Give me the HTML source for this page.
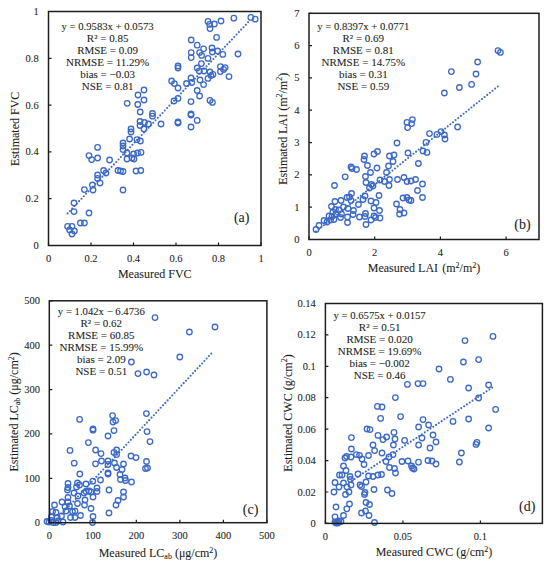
<!DOCTYPE html>
<html><head><meta charset="utf-8"><style>
html,body{margin:0;padding:0;background:#fff;overflow:hidden;}
svg{display:block;}
text{font-family:"Liberation Serif",serif;fill:#1e1e1e;stroke:#1e1e1e;stroke-width:0.08px;white-space:pre;}
.tk{font-size:10.5px;}
.st{font-size:11px;}
.tg{font-size:14px;}
.ti{font-size:12px;}
</style></head><body>
<svg width="550" height="567" viewBox="0 0 550 567">
<rect width="550" height="567" fill="#fff"/>
<g fill="none" stroke="#3d6ac6" stroke-width="1.3"><circle cx="208.0" cy="21.4" r="2.75"/><circle cx="209.6" cy="24.4" r="2.75"/><circle cx="214.4" cy="24.0" r="2.75"/><circle cx="210.0" cy="28.6" r="2.75"/><circle cx="221.0" cy="21.0" r="2.75"/><circle cx="233.8" cy="18.2" r="2.75"/><circle cx="250.8" cy="17.4" r="2.75"/><circle cx="255.2" cy="19.2" r="2.75"/><circle cx="216.6" cy="37.4" r="2.75"/><circle cx="191.2" cy="40.0" r="2.75"/><circle cx="197.2" cy="45.2" r="2.75"/><circle cx="203.6" cy="48.8" r="2.75"/><circle cx="212.0" cy="48.0" r="2.75"/><circle cx="212.4" cy="52.0" r="2.75"/><circle cx="217.6" cy="51.0" r="2.75"/><circle cx="222.8" cy="54.4" r="2.75"/><circle cx="238.0" cy="54.0" r="2.75"/><circle cx="191.2" cy="52.6" r="2.75"/><circle cx="191.2" cy="57.6" r="2.75"/><circle cx="199.6" cy="52.6" r="2.75"/><circle cx="201.6" cy="55.4" r="2.75"/><circle cx="208.0" cy="58.4" r="2.75"/><circle cx="178.0" cy="66.0" r="2.75"/><circle cx="178.0" cy="68.0" r="2.75"/><circle cx="201.4" cy="63.6" r="2.75"/><circle cx="197.2" cy="68.0" r="2.75"/><circle cx="199.2" cy="71.0" r="2.75"/><circle cx="204.0" cy="71.0" r="2.75"/><circle cx="210.0" cy="72.0" r="2.75"/><circle cx="213.0" cy="74.4" r="2.75"/><circle cx="211.0" cy="75.6" r="2.75"/><circle cx="208.0" cy="78.4" r="2.75"/><circle cx="220.4" cy="66.6" r="2.75"/><circle cx="225.2" cy="67.6" r="2.75"/><circle cx="223.6" cy="69.4" r="2.75"/><circle cx="220.4" cy="71.6" r="2.75"/><circle cx="229.0" cy="76.6" r="2.75"/><circle cx="191.0" cy="78.0" r="2.75"/><circle cx="191.8" cy="82.5" r="2.75"/><circle cx="186.5" cy="83.5" r="2.75"/><circle cx="200.0" cy="80.0" r="2.75"/><circle cx="203.6" cy="84.6" r="2.75"/><circle cx="171.6" cy="81.0" r="2.75"/><circle cx="174.4" cy="83.6" r="2.75"/><circle cx="178.0" cy="88.0" r="2.75"/><circle cx="197.2" cy="90.5" r="2.75"/><circle cx="144.0" cy="90.0" r="2.75"/><circle cx="138.0" cy="95.0" r="2.75"/><circle cx="144.0" cy="100.0" r="2.75"/><circle cx="127.2" cy="103.3" r="2.75"/><circle cx="137.8" cy="104.5" r="2.75"/><circle cx="140.2" cy="112.0" r="2.75"/><circle cx="152.5" cy="113.5" r="2.75"/><circle cx="152.5" cy="116.2" r="2.75"/><circle cx="161.0" cy="124.0" r="2.75"/><circle cx="140.0" cy="121.5" r="2.75"/><circle cx="144.5" cy="122.5" r="2.75"/><circle cx="148.5" cy="124.0" r="2.75"/><circle cx="140.0" cy="125.5" r="2.75"/><circle cx="144.0" cy="129.0" r="2.75"/><circle cx="131.0" cy="129.0" r="2.75"/><circle cx="131.0" cy="132.0" r="2.75"/><circle cx="129.6" cy="139.0" r="2.75"/><circle cx="137.0" cy="139.6" r="2.75"/><circle cx="140.4" cy="141.0" r="2.75"/><circle cx="123.0" cy="143.0" r="2.75"/><circle cx="123.0" cy="146.0" r="2.75"/><circle cx="123.0" cy="149.6" r="2.75"/><circle cx="97.6" cy="147.4" r="2.75"/><circle cx="89.0" cy="155.6" r="2.75"/><circle cx="91.6" cy="159.6" r="2.75"/><circle cx="97.6" cy="158.0" r="2.75"/><circle cx="127.0" cy="153.0" r="2.75"/><circle cx="133.6" cy="154.0" r="2.75"/><circle cx="137.6" cy="153.0" r="2.75"/><circle cx="141.0" cy="152.4" r="2.75"/><circle cx="127.0" cy="159.0" r="2.75"/><circle cx="132.0" cy="158.0" r="2.75"/><circle cx="134.0" cy="159.0" r="2.75"/><circle cx="109.6" cy="160.0" r="2.75"/><circle cx="103.6" cy="170.5" r="2.75"/><circle cx="118.0" cy="170.5" r="2.75"/><circle cx="120.5" cy="171.0" r="2.75"/><circle cx="123.0" cy="171.5" r="2.75"/><circle cx="136.0" cy="171.0" r="2.75"/><circle cx="140.8" cy="170.5" r="2.75"/><circle cx="199.6" cy="96.0" r="2.75"/><circle cx="178.0" cy="98.4" r="2.75"/><circle cx="174.0" cy="101.0" r="2.75"/><circle cx="191.0" cy="101.6" r="2.75"/><circle cx="210.0" cy="100.4" r="2.75"/><circle cx="212.4" cy="102.4" r="2.75"/><circle cx="191.0" cy="114.0" r="2.75"/><circle cx="191.0" cy="115.0" r="2.75"/><circle cx="197.2" cy="120.4" r="2.75"/><circle cx="178.0" cy="122.0" r="2.75"/><circle cx="178.0" cy="123.0" r="2.75"/><circle cx="191.0" cy="127.0" r="2.75"/><circle cx="106.0" cy="173.0" r="2.75"/><circle cx="97.6" cy="175.0" r="2.75"/><circle cx="97.6" cy="178.4" r="2.75"/><circle cx="100.0" cy="183.0" r="2.75"/><circle cx="92.4" cy="185.0" r="2.75"/><circle cx="84.4" cy="189.6" r="2.75"/><circle cx="93.0" cy="190.0" r="2.75"/><circle cx="123.0" cy="190.0" r="2.75"/><circle cx="74.0" cy="203.0" r="2.75"/><circle cx="74.0" cy="211.6" r="2.75"/><circle cx="89.0" cy="213.0" r="2.75"/><circle cx="80.4" cy="223.0" r="2.75"/><circle cx="84.4" cy="223.0" r="2.75"/><circle cx="67.6" cy="226.4" r="2.75"/><circle cx="72.0" cy="226.4" r="2.75"/><circle cx="69.6" cy="230.0" r="2.75"/><circle cx="74.4" cy="231.0" r="2.75"/><circle cx="72.0" cy="234.0" r="2.75"/></g>
<line x1="67.6" y1="213.4" x2="250.4" y2="19.9" stroke="#3d6ac6" stroke-width="2.1" stroke-linecap="round" stroke-dasharray="0 3.37"/>
<rect x="48.5" y="11.5" width="212.5" height="234.0" fill="none" stroke="#1e1e1e" stroke-width="1.5"/>
<path d="M48.5 245.5v-3M91.0 245.5v-3M133.5 245.5v-3M176.0 245.5v-3M218.5 245.5v-3M261.0 245.5v-3M48.5 245.5h3M48.5 198.7h3M48.5 151.9h3M48.5 105.1h3M48.5 58.3h3M48.5 11.5h3" stroke="#1e1e1e" stroke-width="1.2" fill="none"/>
<text x="48.5" y="262.0" text-anchor="middle" class="tk">0</text>
<text x="91.0" y="262.0" text-anchor="middle" class="tk">0.2</text>
<text x="133.5" y="262.0" text-anchor="middle" class="tk">0.4</text>
<text x="176.0" y="262.0" text-anchor="middle" class="tk">0.6</text>
<text x="218.5" y="262.0" text-anchor="middle" class="tk">0.8</text>
<text x="261.0" y="262.0" text-anchor="middle" class="tk">1</text>
<text x="38.7" y="249.0" text-anchor="end" class="tk">0</text>
<text x="38.7" y="202.2" text-anchor="end" class="tk">0.2</text>
<text x="38.7" y="155.4" text-anchor="end" class="tk">0.4</text>
<text x="38.7" y="108.6" text-anchor="end" class="tk">0.6</text>
<text x="38.7" y="61.8" text-anchor="end" class="tk">0.8</text>
<text x="38.7" y="15.0" text-anchor="end" class="tk">1</text>
<text x="107.6" y="29.7" text-anchor="middle" class="st" style="font-size:10.7px">y = 0.9583x + 0.0573</text>
<text x="107.6" y="41.7" text-anchor="middle" class="st">R² = 0.85</text>
<text x="107.6" y="53.7" text-anchor="middle" class="st">RMSE = 0.09</text>
<text x="107.6" y="65.7" text-anchor="middle" class="st">NRMSE = 11.29%</text>
<text x="107.6" y="77.7" text-anchor="middle" class="st">bias = −0.03</text>
<text x="107.6" y="89.7" text-anchor="middle" class="st">NSE = 0.81</text>
<text x="241.7" y="221.5" text-anchor="middle" class="tg">(a)</text>
<text x="154.8" y="278.0" text-anchor="middle" class="ti">Measured FVC</text>
<text transform="translate(19.3,128.8) rotate(-90)" text-anchor="middle" class="ti">Estimated FVC</text>
<g fill="none" stroke="#3d6ac6" stroke-width="1.3"><circle cx="498.0" cy="50.6" r="2.75"/><circle cx="500.4" cy="52.4" r="2.75"/><circle cx="477.6" cy="62.0" r="2.75"/><circle cx="451.4" cy="71.6" r="2.75"/><circle cx="476.0" cy="74.0" r="2.75"/><circle cx="459.4" cy="87.5" r="2.75"/><circle cx="471.6" cy="84.4" r="2.75"/><circle cx="407.0" cy="122.4" r="2.75"/><circle cx="412.4" cy="119.6" r="2.75"/><circle cx="411.6" cy="123.6" r="2.75"/><circle cx="407.6" cy="127.6" r="2.75"/><circle cx="429.5" cy="133.6" r="2.75"/><circle cx="397.0" cy="143.0" r="2.75"/><circle cx="426.0" cy="142.4" r="2.75"/><circle cx="423.0" cy="151.0" r="2.75"/><circle cx="427.0" cy="152.4" r="2.75"/><circle cx="408.0" cy="153.0" r="2.75"/><circle cx="418.4" cy="163.5" r="2.75"/><circle cx="377.5" cy="151.5" r="2.75"/><circle cx="374.0" cy="154.0" r="2.75"/><circle cx="389.5" cy="156.0" r="2.75"/><circle cx="394.0" cy="155.0" r="2.75"/><circle cx="393.0" cy="161.5" r="2.75"/><circle cx="364.5" cy="156.0" r="2.75"/><circle cx="364.0" cy="159.5" r="2.75"/><circle cx="367.5" cy="165.5" r="2.75"/><circle cx="351.0" cy="167.0" r="2.75"/><circle cx="352.0" cy="168.5" r="2.75"/><circle cx="356.5" cy="169.5" r="2.75"/><circle cx="377.0" cy="168.0" r="2.75"/><circle cx="388.5" cy="166.0" r="2.75"/><circle cx="444.4" cy="93.0" r="2.75"/><circle cx="437.0" cy="134.4" r="2.75"/><circle cx="441.0" cy="131.6" r="2.75"/><circle cx="444.4" cy="135.0" r="2.75"/><circle cx="445.0" cy="139.0" r="2.75"/><circle cx="457.6" cy="127.0" r="2.75"/><circle cx="345.2" cy="176.8" r="2.75"/><circle cx="334.5" cy="185.5" r="2.75"/><circle cx="351.5" cy="193.5" r="2.75"/><circle cx="347.0" cy="197.5" r="2.75"/><circle cx="349.5" cy="197.0" r="2.75"/><circle cx="341.0" cy="200.5" r="2.75"/><circle cx="335.0" cy="201.5" r="2.75"/><circle cx="363.0" cy="199.5" r="2.75"/><circle cx="351.0" cy="200.5" r="2.75"/><circle cx="358.5" cy="204.5" r="2.75"/><circle cx="331.5" cy="206.5" r="2.75"/><circle cx="343.5" cy="207.0" r="2.75"/><circle cx="348.0" cy="208.5" r="2.75"/><circle cx="353.5" cy="210.5" r="2.75"/><circle cx="353.0" cy="214.5" r="2.75"/><circle cx="359.5" cy="217.0" r="2.75"/><circle cx="335.5" cy="209.5" r="2.75"/><circle cx="339.0" cy="210.0" r="2.75"/><circle cx="333.0" cy="212.0" r="2.75"/><circle cx="329.0" cy="216.0" r="2.75"/><circle cx="332.0" cy="216.5" r="2.75"/><circle cx="336.0" cy="214.0" r="2.75"/><circle cx="341.5" cy="214.0" r="2.75"/><circle cx="340.5" cy="217.5" r="2.75"/><circle cx="347.5" cy="217.0" r="2.75"/><circle cx="347.5" cy="222.5" r="2.75"/><circle cx="324.0" cy="220.5" r="2.75"/><circle cx="327.0" cy="222.0" r="2.75"/><circle cx="334.0" cy="219.5" r="2.75"/><circle cx="330.5" cy="220.0" r="2.75"/><circle cx="319.0" cy="225.5" r="2.75"/><circle cx="316.0" cy="229.5" r="2.75"/><circle cx="370.5" cy="172.5" r="2.75"/><circle cx="386.5" cy="172.5" r="2.75"/><circle cx="365.5" cy="176.5" r="2.75"/><circle cx="380.0" cy="180.0" r="2.75"/><circle cx="384.5" cy="181.5" r="2.75"/><circle cx="389.5" cy="179.5" r="2.75"/><circle cx="389.0" cy="185.5" r="2.75"/><circle cx="397.5" cy="179.5" r="2.75"/><circle cx="404.0" cy="177.5" r="2.75"/><circle cx="407.0" cy="181.5" r="2.75"/><circle cx="411.0" cy="181.0" r="2.75"/><circle cx="415.5" cy="179.5" r="2.75"/><circle cx="417.5" cy="190.5" r="2.75"/><circle cx="366.0" cy="182.5" r="2.75"/><circle cx="371.5" cy="184.5" r="2.75"/><circle cx="369.5" cy="188.0" r="2.75"/><circle cx="373.0" cy="186.0" r="2.75"/><circle cx="379.0" cy="195.5" r="2.75"/><circle cx="365.0" cy="196.0" r="2.75"/><circle cx="371.0" cy="201.0" r="2.75"/><circle cx="376.0" cy="202.5" r="2.75"/><circle cx="403.0" cy="198.0" r="2.75"/><circle cx="407.0" cy="197.5" r="2.75"/><circle cx="409.0" cy="200.0" r="2.75"/><circle cx="411.0" cy="200.5" r="2.75"/><circle cx="396.5" cy="204.0" r="2.75"/><circle cx="374.0" cy="208.0" r="2.75"/><circle cx="379.5" cy="210.5" r="2.75"/><circle cx="365.5" cy="213.5" r="2.75"/><circle cx="365.0" cy="216.5" r="2.75"/><circle cx="374.0" cy="216.0" r="2.75"/><circle cx="375.5" cy="217.5" r="2.75"/><circle cx="380.0" cy="218.0" r="2.75"/><circle cx="371.0" cy="220.0" r="2.75"/><circle cx="366.0" cy="224.5" r="2.75"/><circle cx="400.0" cy="209.5" r="2.75"/><circle cx="399.5" cy="214.0" r="2.75"/><circle cx="404.0" cy="213.0" r="2.75"/><circle cx="422.5" cy="184.0" r="2.75"/><circle cx="422.5" cy="197.5" r="2.75"/></g>
<line x1="316" y1="231.5" x2="498" y2="86.3" stroke="#3d6ac6" stroke-width="2.1" stroke-linecap="round" stroke-dasharray="0 3.37"/>
<rect x="309" y="13.3" width="230.0" height="226.2" fill="none" stroke="#1e1e1e" stroke-width="1.5"/>
<path d="M309.0 239.5v-3M374.7 239.5v-3M440.4 239.5v-3M506.1 239.5v-3M309 239.5h3M309 207.2h3M309 174.9h3M309 142.6h3M309 110.2h3M309 77.9h3M309 45.6h3M309 13.3h3" stroke="#1e1e1e" stroke-width="1.2" fill="none"/>
<text x="309.0" y="256.0" text-anchor="middle" class="tk">0</text>
<text x="374.7" y="256.0" text-anchor="middle" class="tk">2</text>
<text x="440.4" y="256.0" text-anchor="middle" class="tk">4</text>
<text x="506.1" y="256.0" text-anchor="middle" class="tk">6</text>
<text x="299.5" y="243.0" text-anchor="end" class="tk">0</text>
<text x="299.5" y="210.7" text-anchor="end" class="tk">1</text>
<text x="299.5" y="178.4" text-anchor="end" class="tk">2</text>
<text x="299.5" y="146.1" text-anchor="end" class="tk">3</text>
<text x="299.5" y="113.7" text-anchor="end" class="tk">4</text>
<text x="299.5" y="81.4" text-anchor="end" class="tk">5</text>
<text x="299.5" y="49.1" text-anchor="end" class="tk">6</text>
<text x="299.5" y="16.8" text-anchor="end" class="tk">7</text>
<text x="363.3" y="29.8" text-anchor="middle" class="st" style="font-size:10.7px">y = 0.8397x + 0.0771</text>
<text x="363.3" y="41.8" text-anchor="middle" class="st">R² = 0.69</text>
<text x="363.3" y="53.8" text-anchor="middle" class="st">RMSE = 0.81</text>
<text x="363.3" y="65.8" text-anchor="middle" class="st">NRMSE = 14.75%</text>
<text x="363.3" y="77.8" text-anchor="middle" class="st">bias = 0.31</text>
<text x="363.3" y="89.8" text-anchor="middle" class="st">NSE = 0.59</text>
<text x="522.4" y="228.7" text-anchor="middle" class="tg">(b)</text>
<text x="424" y="272.0" text-anchor="middle" class="ti">Measured LAI<tspan dx="1.2"> (m</tspan><tspan font-size="8" dy="-4.5">2</tspan><tspan dy="4.5">/m</tspan><tspan font-size="8" dy="-4.5">2</tspan><tspan dy="4.5">)</tspan></text>
<text transform="translate(286.5,128.8) rotate(-90)" text-anchor="middle" class="ti">Estimated LAI (m<tspan font-size="8" dy="-4.5">2</tspan><tspan dy="4.5">/m</tspan><tspan font-size="8" dy="-4.5">2</tspan><tspan dy="4.5">)</tspan></text>
<g fill="none" stroke="#3d6ac6" stroke-width="1.3"><circle cx="155.0" cy="317.6" r="2.75"/><circle cx="131.4" cy="362.0" r="2.75"/><circle cx="138.0" cy="373.6" r="2.75"/><circle cx="146.6" cy="372.0" r="2.75"/><circle cx="154.0" cy="375.0" r="2.75"/><circle cx="189.4" cy="332.0" r="2.75"/><circle cx="215.0" cy="327.0" r="2.75"/><circle cx="179.8" cy="357.0" r="2.75"/><circle cx="79.6" cy="419.4" r="2.75"/><circle cx="93.0" cy="429.0" r="2.75"/><circle cx="93.0" cy="430.2" r="2.75"/><circle cx="112.6" cy="415.6" r="2.75"/><circle cx="113.0" cy="422.0" r="2.75"/><circle cx="115.6" cy="420.6" r="2.75"/><circle cx="114.0" cy="430.6" r="2.75"/><circle cx="108.0" cy="436.0" r="2.75"/><circle cx="88.4" cy="442.6" r="2.75"/><circle cx="70.0" cy="450.4" r="2.75"/><circle cx="95.6" cy="450.0" r="2.75"/><circle cx="101.0" cy="453.6" r="2.75"/><circle cx="114.0" cy="452.4" r="2.75"/><circle cx="116.6" cy="450.0" r="2.75"/><circle cx="116.6" cy="454.6" r="2.75"/><circle cx="146.4" cy="413.6" r="2.75"/><circle cx="147.0" cy="431.6" r="2.75"/><circle cx="150.0" cy="441.6" r="2.75"/><circle cx="131.0" cy="456.0" r="2.75"/><circle cx="136.0" cy="457.6" r="2.75"/><circle cx="74.2" cy="463.2" r="2.75"/><circle cx="95.5" cy="463.8" r="2.75"/><circle cx="79.8" cy="474.0" r="2.75"/><circle cx="68.0" cy="483.5" r="2.75"/><circle cx="68.0" cy="487.5" r="2.75"/><circle cx="77.5" cy="483.0" r="2.75"/><circle cx="79.5" cy="485.0" r="2.75"/><circle cx="76.5" cy="487.0" r="2.75"/><circle cx="86.0" cy="484.0" r="2.75"/><circle cx="92.8" cy="481.2" r="2.75"/><circle cx="100.5" cy="480.0" r="2.75"/><circle cx="97.0" cy="488.0" r="2.75"/><circle cx="89.0" cy="491.0" r="2.75"/><circle cx="74.0" cy="493.0" r="2.75"/><circle cx="84.0" cy="493.0" r="2.75"/><circle cx="91.0" cy="492.0" r="2.75"/><circle cx="54.5" cy="505.0" r="2.75"/><circle cx="52.5" cy="511.5" r="2.75"/><circle cx="56.0" cy="512.5" r="2.75"/><circle cx="51.5" cy="517.0" r="2.75"/><circle cx="57.0" cy="518.0" r="2.75"/><circle cx="49.0" cy="522.0" r="2.75"/><circle cx="51.0" cy="520.5" r="2.75"/><circle cx="58.0" cy="521.0" r="2.75"/><circle cx="47.0" cy="521.5" r="2.75"/><circle cx="53.0" cy="522.5" r="2.75"/><circle cx="56.0" cy="522.5" r="2.75"/><circle cx="63.0" cy="522.0" r="2.75"/><circle cx="61.5" cy="516.0" r="2.75"/><circle cx="62.0" cy="502.0" r="2.75"/><circle cx="68.0" cy="497.5" r="2.75"/><circle cx="68.0" cy="502.0" r="2.75"/><circle cx="65.0" cy="507.0" r="2.75"/><circle cx="69.5" cy="506.0" r="2.75"/><circle cx="66.0" cy="511.0" r="2.75"/><circle cx="72.5" cy="511.5" r="2.75"/><circle cx="75.0" cy="511.0" r="2.75"/><circle cx="70.5" cy="517.5" r="2.75"/><circle cx="75.0" cy="517.5" r="2.75"/><circle cx="80.5" cy="515.5" r="2.75"/><circle cx="78.0" cy="496.0" r="2.75"/><circle cx="77.5" cy="503.5" r="2.75"/><circle cx="85.0" cy="500.0" r="2.75"/><circle cx="84.5" cy="505.0" r="2.75"/><circle cx="86.0" cy="491.5" r="2.75"/><circle cx="93.0" cy="497.0" r="2.75"/><circle cx="97.0" cy="491.5" r="2.75"/><circle cx="91.0" cy="508.5" r="2.75"/><circle cx="93.0" cy="516.5" r="2.75"/><circle cx="92.5" cy="522.5" r="2.75"/><circle cx="67.5" cy="490.0" r="2.75"/><circle cx="146.5" cy="461.5" r="2.75"/><circle cx="145.5" cy="468.5" r="2.75"/><circle cx="147.5" cy="468.0" r="2.75"/><circle cx="101.5" cy="461.0" r="2.75"/><circle cx="108.0" cy="461.0" r="2.75"/><circle cx="108.0" cy="464.5" r="2.75"/><circle cx="114.5" cy="463.0" r="2.75"/><circle cx="116.5" cy="467.5" r="2.75"/><circle cx="123.5" cy="464.0" r="2.75"/><circle cx="122.0" cy="469.5" r="2.75"/><circle cx="108.0" cy="473.0" r="2.75"/><circle cx="108.0" cy="474.0" r="2.75"/><circle cx="120.0" cy="474.5" r="2.75"/><circle cx="120.5" cy="479.5" r="2.75"/><circle cx="125.0" cy="478.0" r="2.75"/><circle cx="125.5" cy="480.5" r="2.75"/><circle cx="131.5" cy="482.0" r="2.75"/><circle cx="109.0" cy="490.0" r="2.75"/><circle cx="123.5" cy="492.0" r="2.75"/><circle cx="123.5" cy="497.0" r="2.75"/><circle cx="118.0" cy="500.5" r="2.75"/><circle cx="116.0" cy="505.0" r="2.75"/><circle cx="109.0" cy="513.0" r="2.75"/></g>
<line x1="55" y1="521.2" x2="213.2" y2="351.5" stroke="#3d6ac6" stroke-width="2.1" stroke-linecap="round" stroke-dasharray="0 3.37"/>
<rect x="49.3" y="300.8" width="217.6" height="221.9" fill="none" stroke="#1e1e1e" stroke-width="1.5"/>
<path d="M49.3 522.7v-3M92.8 522.7v-3M136.3 522.7v-3M179.9 522.7v-3M223.4 522.7v-3M266.9 522.7v-3M49.3 522.7h3M49.3 478.3h3M49.3 433.9h3M49.3 389.6h3M49.3 345.2h3M49.3 300.8h3" stroke="#1e1e1e" stroke-width="1.2" fill="none"/>
<text x="49.3" y="538.5" text-anchor="middle" class="tk">0</text>
<text x="92.8" y="538.5" text-anchor="middle" class="tk">100</text>
<text x="136.3" y="538.5" text-anchor="middle" class="tk">200</text>
<text x="179.9" y="538.5" text-anchor="middle" class="tk">300</text>
<text x="223.4" y="538.5" text-anchor="middle" class="tk">400</text>
<text x="266.9" y="538.5" text-anchor="middle" class="tk">500</text>
<text x="40" y="526.2" text-anchor="end" class="tk">0</text>
<text x="40" y="481.8" text-anchor="end" class="tk">100</text>
<text x="40" y="437.4" text-anchor="end" class="tk">200</text>
<text x="40" y="393.1" text-anchor="end" class="tk">300</text>
<text x="40" y="348.7" text-anchor="end" class="tk">400</text>
<text x="40" y="304.3" text-anchor="end" class="tk">500</text>
<text x="101.3" y="315.4" text-anchor="middle" class="st" style="font-size:10.7px">y = 1.042x − 6.4736</text>
<text x="101.3" y="327.4" text-anchor="middle" class="st">R² = 0.62</text>
<text x="101.3" y="339.4" text-anchor="middle" class="st">RMSE = 60.85</text>
<text x="101.3" y="351.4" text-anchor="middle" class="st">NRMSE = 15.99%</text>
<text x="101.3" y="363.4" text-anchor="middle" class="st">bias = 2.09</text>
<text x="101.3" y="375.4" text-anchor="middle" class="st">NSE = 0.51</text>
<text x="250.6" y="513.7" text-anchor="middle" class="tg">(c)</text>
<text x="158" y="557.0" text-anchor="middle" class="ti">Measured LC<tspan font-size="8" dy="2">ab</tspan><tspan dy="-2"> (μg/cm<tspan font-size="8" dy="-4.5">2</tspan><tspan dy="4.5">)</tspan></tspan></text>
<text transform="translate(18.3,411.9) rotate(-90)" text-anchor="middle" class="ti">Estimated LC<tspan font-size="8" dy="2">ab</tspan><tspan dy="-2"> (μg/cm<tspan font-size="8" dy="-4.5">2</tspan><tspan dy="4.5">)</tspan></tspan></text>
<g fill="none" stroke="#3d6ac6" stroke-width="1.3"><circle cx="465.0" cy="340.6" r="2.75"/><circle cx="493.0" cy="336.4" r="2.75"/><circle cx="463.4" cy="362.0" r="2.75"/><circle cx="478.6" cy="359.6" r="2.75"/><circle cx="439.0" cy="369.0" r="2.75"/><circle cx="450.4" cy="379.4" r="2.75"/><circle cx="488.6" cy="385.0" r="2.75"/><circle cx="468.6" cy="388.0" r="2.75"/><circle cx="407.4" cy="384.4" r="2.75"/><circle cx="418.0" cy="383.6" r="2.75"/><circle cx="423.0" cy="383.6" r="2.75"/><circle cx="395.4" cy="397.6" r="2.75"/><circle cx="377.4" cy="406.4" r="2.75"/><circle cx="382.0" cy="407.0" r="2.75"/><circle cx="380.6" cy="418.4" r="2.75"/><circle cx="400.6" cy="416.6" r="2.75"/><circle cx="367.0" cy="429.0" r="2.75"/><circle cx="370.0" cy="429.6" r="2.75"/><circle cx="423.0" cy="419.6" r="2.75"/><circle cx="418.6" cy="427.0" r="2.75"/><circle cx="428.6" cy="425.0" r="2.75"/><circle cx="433.0" cy="435.0" r="2.75"/><circle cx="394.0" cy="432.4" r="2.75"/><circle cx="378.0" cy="435.4" r="2.75"/><circle cx="383.0" cy="439.6" r="2.75"/><circle cx="386.6" cy="437.0" r="2.75"/><circle cx="395.0" cy="439.0" r="2.75"/><circle cx="404.6" cy="440.4" r="2.75"/><circle cx="422.0" cy="438.0" r="2.75"/><circle cx="393.4" cy="445.0" r="2.75"/><circle cx="418.6" cy="445.0" r="2.75"/><circle cx="430.0" cy="448.0" r="2.75"/><circle cx="351.4" cy="437.6" r="2.75"/><circle cx="373.0" cy="445.0" r="2.75"/><circle cx="351.4" cy="449.0" r="2.75"/><circle cx="374.6" cy="450.6" r="2.75"/><circle cx="382.0" cy="453.0" r="2.75"/><circle cx="393.0" cy="454.6" r="2.75"/><circle cx="389.0" cy="457.0" r="2.75"/><circle cx="478.6" cy="398.0" r="2.75"/><circle cx="495.6" cy="409.4" r="2.75"/><circle cx="453.0" cy="421.4" r="2.75"/><circle cx="468.6" cy="419.0" r="2.75"/><circle cx="488.6" cy="428.0" r="2.75"/><circle cx="436.0" cy="442.0" r="2.75"/><circle cx="477.0" cy="442.4" r="2.75"/><circle cx="476.0" cy="444.4" r="2.75"/><circle cx="461.4" cy="453.0" r="2.75"/><circle cx="345.0" cy="458.0" r="2.75"/><circle cx="346.5" cy="456.5" r="2.75"/><circle cx="351.0" cy="457.0" r="2.75"/><circle cx="356.4" cy="454.6" r="2.75"/><circle cx="359.5" cy="455.3" r="2.75"/><circle cx="362.0" cy="459.0" r="2.75"/><circle cx="368.5" cy="455.5" r="2.75"/><circle cx="364.0" cy="464.5" r="2.75"/><circle cx="343.5" cy="466.0" r="2.75"/><circle cx="346.0" cy="470.5" r="2.75"/><circle cx="358.0" cy="474.0" r="2.75"/><circle cx="339.5" cy="475.0" r="2.75"/><circle cx="342.0" cy="475.0" r="2.75"/><circle cx="350.0" cy="476.5" r="2.75"/><circle cx="350.5" cy="479.5" r="2.75"/><circle cx="335.0" cy="482.5" r="2.75"/><circle cx="343.5" cy="483.0" r="2.75"/><circle cx="339.0" cy="487.0" r="2.75"/><circle cx="351.0" cy="485.0" r="2.75"/><circle cx="347.0" cy="487.0" r="2.75"/><circle cx="360.0" cy="485.0" r="2.75"/><circle cx="361.5" cy="486.5" r="2.75"/><circle cx="366.0" cy="482.0" r="2.75"/><circle cx="368.5" cy="476.0" r="2.75"/><circle cx="373.0" cy="476.5" r="2.75"/><circle cx="334.0" cy="492.0" r="2.75"/><circle cx="349.0" cy="492.0" r="2.75"/><circle cx="365.0" cy="492.5" r="2.75"/><circle cx="374.0" cy="489.5" r="2.75"/><circle cx="345.5" cy="494.5" r="2.75"/><circle cx="364.5" cy="494.5" r="2.75"/><circle cx="336.0" cy="507.0" r="2.75"/><circle cx="349.5" cy="504.0" r="2.75"/><circle cx="346.8" cy="508.8" r="2.75"/><circle cx="343.5" cy="515.5" r="2.75"/><circle cx="335.0" cy="516.8" r="2.75"/><circle cx="337.5" cy="522.0" r="2.75"/><circle cx="339.0" cy="521.0" r="2.75"/><circle cx="336.0" cy="523.0" r="2.75"/><circle cx="366.0" cy="502.5" r="2.75"/><circle cx="369.5" cy="504.5" r="2.75"/><circle cx="361.5" cy="513.0" r="2.75"/><circle cx="365.5" cy="511.0" r="2.75"/><circle cx="369.0" cy="515.5" r="2.75"/><circle cx="374.5" cy="522.5" r="2.75"/><circle cx="338.0" cy="523.0" r="2.75"/><circle cx="341.0" cy="521.5" r="2.75"/><circle cx="335.0" cy="522.0" r="2.75"/><circle cx="386.0" cy="461.5" r="2.75"/><circle cx="389.5" cy="467.5" r="2.75"/><circle cx="394.5" cy="468.5" r="2.75"/><circle cx="395.5" cy="473.0" r="2.75"/><circle cx="402.0" cy="461.5" r="2.75"/><circle cx="408.0" cy="461.0" r="2.75"/><circle cx="418.5" cy="462.2" r="2.75"/><circle cx="428.0" cy="460.5" r="2.75"/><circle cx="411.5" cy="466.0" r="2.75"/><circle cx="412.5" cy="468.0" r="2.75"/><circle cx="414.0" cy="469.0" r="2.75"/><circle cx="378.0" cy="475.0" r="2.75"/><circle cx="381.5" cy="474.5" r="2.75"/><circle cx="387.5" cy="490.0" r="2.75"/><circle cx="392.0" cy="493.5" r="2.75"/><circle cx="459.4" cy="462.0" r="2.75"/><circle cx="432.0" cy="461.0" r="2.75"/><circle cx="436.0" cy="464.0" r="2.75"/></g>
<line x1="351.8" y1="480.8" x2="492.8" y2="387.2" stroke="#3d6ac6" stroke-width="2.1" stroke-linecap="round" stroke-dasharray="0 3.37"/>
<rect x="325.4" y="303.5" width="217.0" height="219.9" fill="none" stroke="#1e1e1e" stroke-width="1.5"/>
<path d="M325.4 523.4v-3M402.9 523.4v-3M480.4 523.4v-3M325.4 523.4h3M325.4 492.0h3M325.4 460.6h3M325.4 429.2h3M325.4 397.7h3M325.4 366.3h3M325.4 334.9h3M325.4 303.5h3" stroke="#1e1e1e" stroke-width="1.2" fill="none"/>
<text x="325.4" y="539.5" text-anchor="middle" class="tk">0</text>
<text x="402.9" y="539.5" text-anchor="middle" class="tk">0.05</text>
<text x="480.4" y="539.5" text-anchor="middle" class="tk">0.1</text>
<text x="315.8" y="526.9" text-anchor="end" class="tk">0</text>
<text x="315.8" y="495.5" text-anchor="end" class="tk">0.02</text>
<text x="315.8" y="464.1" text-anchor="end" class="tk">0.04</text>
<text x="315.8" y="432.7" text-anchor="end" class="tk">0.06</text>
<text x="315.8" y="401.2" text-anchor="end" class="tk">0.08</text>
<text x="315.8" y="369.8" text-anchor="end" class="tk">0.1</text>
<text x="315.8" y="338.4" text-anchor="end" class="tk">0.12</text>
<text x="315.8" y="307.0" text-anchor="end" class="tk">0.14</text>
<text x="379.6" y="319.3" text-anchor="middle" class="st" style="font-size:10.7px">y = 0.6575x + 0.0157</text>
<text x="379.6" y="331.3" text-anchor="middle" class="st">R² = 0.51</text>
<text x="379.6" y="343.3" text-anchor="middle" class="st">RMSE = 0.020</text>
<text x="379.6" y="355.3" text-anchor="middle" class="st">NRMSE = 19.69%</text>
<text x="379.6" y="367.3" text-anchor="middle" class="st">bias = −0.002</text>
<text x="379.6" y="379.3" text-anchor="middle" class="st">NSE = 0.46</text>
<text x="527.2" y="511.3" text-anchor="middle" class="tg">(d)</text>
<text x="434" y="556.0" text-anchor="middle" class="ti">Measured CWC (g/cm<tspan font-size="8" dy="-4.5">2</tspan><tspan dy="4.5">)</tspan></text>
<text transform="translate(291.7,413) rotate(-90)" text-anchor="middle" class="ti">Estimated CWC (g/cm<tspan font-size="8" dy="-4.5">2</tspan><tspan dy="4.5">)</tspan></text>
</svg></body></html>
